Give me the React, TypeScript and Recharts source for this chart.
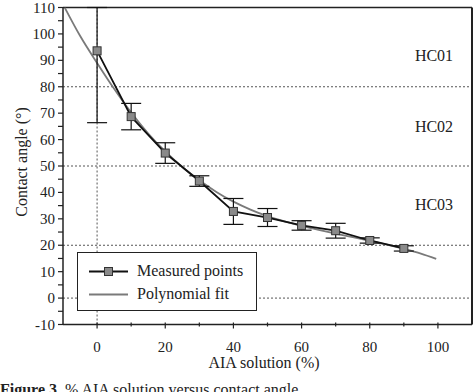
import { ComposedChart, Line, XAxis, YAxis, ReferenceLine, ErrorBar, Legend } from "recharts"

const xValues = [0, 10, 20, 30, 40, 50, 60, 70, 80, 90]
const measured = [93.6, 68.7, 54.9, 44.3, 32.8, 30.5, 27.5, 25.5, 21.8, 18.8]
// lower / upper error as drawn (the first bar runs off the top of the frame)
const errLow = [27.2, 5.0, 3.9, 2.0, 4.9, 3.4, 1.8, 2.8, 1.0, 1.0]
const errHigh = [16.4, 5.0, 3.9, 2.0, 4.9, 3.4, 1.8, 2.8, 1.0, 1.0]

const fitX = [-9.5, -5, 0, 5, 10, 15, 20, 25, 30, 35, 40, 45, 50, 55, 60, 65, 70, 75, 80, 85, 90, 95, 99.5]
const fitY = [110, 99.3, 89, 79.2, 70.2, 62.3, 55.5, 49.6, 44.6, 40.2, 36.5, 33.5, 31.0, 29.0, 27.3, 25.8, 24.4, 23.05, 21.7, 20.25, 18.65, 16.85, 14.85]

const xTicks = [0, 10, 20, 30, 40, 50, 60, 70, 80, 90, 100]
const yTicks = [-10, -5, 0, 5, 10, 15, 20, 25, 30, 35, 40, 45, 50, 55, 60, 65, 70, 75, 80, 85, 90, 95, 100, 105, 110]
const gridY = [80, 50, 20, 0]

const regions = [
  { label: "HC01", value: 92 },
  { label: "HC02", value: 65 },
  { label: "HC03", value: 35.3 },
]

const measuredData = xValues.map((x, i) => ({ x, y: measured[i], err: [errLow[i], errHigh[i]] }))
const fitData = fitX.map((x, i) => ({ x, y: fitY[i] }))

const FONT = "'Liberation Serif', 'DejaVu Serif', serif"
const INK = "#222"

// plot box in pixels
const PLOT = { left: 63, top: 7.5, right: 472, bottom: 324.5 }
const yPx = (v: number) => PLOT.bottom - ((v + 10) / 120) * (PLOT.bottom - PLOT.top)

function XTick(props: any) {
  const { x, y, payload } = props
  const major = payload.value % 20 === 0
  return (
    <g>
      <line x1={x} x2={x} y1={y - 2} y2={y + (major ? 4 : 2)} stroke={INK} strokeWidth={1.2} />
      {major && (
        <text x={x} y={y + 27} textAnchor="middle" fontFamily={FONT} fontSize={15} fill={INK}>
          {payload.value}
        </text>
      )}
    </g>
  )
}

function YTick(props: any) {
  const { x, y, payload } = props
  const major = payload.value % 10 === 0
  return (
    <g>
      <line x1={x - 5} x2={x} y1={y} y2={y} stroke={INK} strokeWidth={1.2} />
      {major && (
        <text x={x - 8} y={y + 5} textAnchor="end" fontFamily={FONT} fontSize={15} fill={INK}>
          {payload.value}
        </text>
      )}
    </g>
  )
}

function SquareDot(props: any) {
  const { cx, cy } = props
  if (cx == null || cy == null) return null
  return <rect x={cx - 4} y={cy - 4} width={8} height={8} fill="#8a8a8a" stroke="#333" strokeWidth={1} />
}

function LegendBox() {
  return (
    <div
      style={{
        width: 180,
        height: 59,
        boxSizing: "border-box",
        border: "1px solid #222",
        background: "#fff",
        fontFamily: FONT,
        fontSize: 16,
        color: INK,
        position: "relative",
      }}
    >
      <svg width={60} height={59} style={{ position: "absolute", left: 0, top: 0 }}>
        <line x1={11} x2={50} y1={18.5} y2={18.5} stroke="#111" strokeWidth={1.8} />
        <rect x={26.5} y={14.5} width={8} height={8} fill="#8a8a8a" stroke="#333" />
        <line x1={11} x2={50} y1={41.5} y2={41.5} stroke="#7a7a7a" strokeWidth={1.8} />
      </svg>
      <div style={{ position: "absolute", left: 59, top: 8, lineHeight: "20px" }}>Measured points</div>
      <div style={{ position: "absolute", left: 59, top: 31, lineHeight: "20px" }}>Polynomial fit</div>
    </div>
  )
}

export default function App() {
  return (
    <div style={{ width: 474, height: 392, position: "relative", background: "#fff", overflow: "hidden" }}>
      <style>{`body{margin:0}`}</style>
      <ComposedChart
        width={474}
        height={392}
        margin={{ top: PLOT.top, right: 474 - PLOT.right, bottom: 392 - PLOT.bottom - 1, left: PLOT.left - 1 }}
      >
        <XAxis
          type="number"
          dataKey="x"
          domain={[-10, 110]}
          ticks={xTicks}
          interval={0}
          allowDataOverflow
          height={1}
          tickSize={0}
          tickMargin={0}
          tickLine={false}
          tick={<XTick />}
          axisLine={{ stroke: INK, strokeWidth: 1.5 }}
        />
        <YAxis
          type="number"
          domain={[-10, 110]}
          ticks={yTicks}
          interval={0}
          allowDataOverflow
          width={1}
          tickSize={0}
          tickMargin={0}
          tickLine={false}
          tick={<YTick />}
          axisLine={{ stroke: INK, strokeWidth: 1.5 }}
        />
        {gridY.map((v) => (
          <ReferenceLine key={v} y={v} stroke="#555" strokeDasharray="2 2" strokeWidth={1} />
        ))}
        <ReferenceLine x={0} stroke="#555" strokeDasharray="2 2" strokeWidth={1} />
        <ReferenceLine y={110} stroke={INK} strokeWidth={1.3} />
        <ReferenceLine x={110} stroke={INK} strokeWidth={2} />
        <Line
          data={fitData}
          dataKey="y"
          type="monotone"
          stroke="#7a7a7a"
          strokeWidth={1.8}
          dot={false}
          isAnimationActive={false}
        />
        <Line
          data={measuredData}
          dataKey="y"
          type="linear"
          stroke="#111"
          strokeWidth={1.8}
          dot={<SquareDot />}
          isAnimationActive={false}
        >
          <ErrorBar dataKey="err" width={10} stroke="#111" strokeWidth={1.2} direction="y" />
        </Line>
        <Legend
          layout="horizontal"
          align="center"
          verticalAlign="middle"
          content={() => <LegendBox />}
          wrapperStyle={{ left: 77, top: 252, width: 180, height: 59 }}
        />
        {regions.map((r) => (
          <text key={r.label} x={434} y={yPx(r.value) + 5.5} textAnchor="middle" fontFamily={FONT} fontSize={16} fill={INK}>
            {r.label}
          </text>
        ))}
        <text x={264} y={368} textAnchor="middle" fontFamily={FONT} fontSize={16} fill={INK}>
          AIA solution (%)
        </text>
        <text x={27} y={162} transform="rotate(-90, 27, 162)" textAnchor="middle" fontFamily={FONT} fontSize={16} fill={INK}>
          Contact angle (°)
        </text>
        <text x={0} y={395} fontFamily={FONT} fontSize={16} fill={INK}>
          <tspan fontWeight="bold">Figure 3.</tspan> % AIA solution versus contact angle
        </text>
      </ComposedChart>
    </div>
  )
}
